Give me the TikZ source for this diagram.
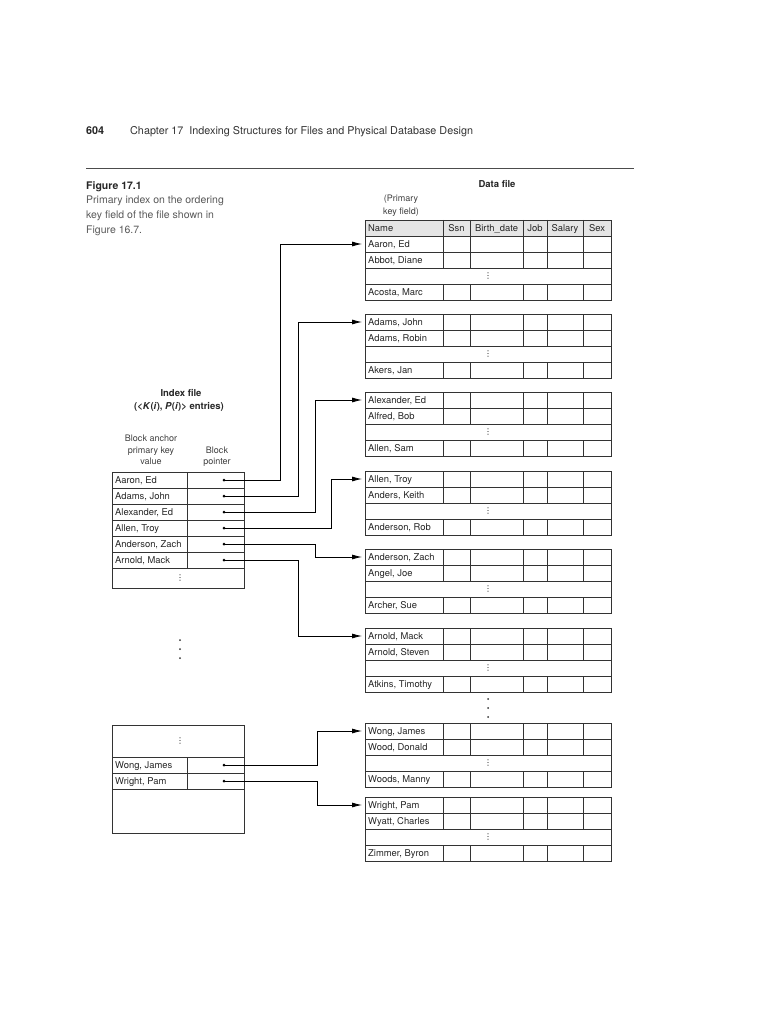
\documentclass[tikz,border=0pt]{standalone}
\usepackage{fontspec}
\setmainfont{TeX Gyre Heros}
\newfontfamily\symfont{DejaVu Sans}
\usetikzlibrary{arrows.meta}

\tikzset{
  grid/.style={draw=black!80, line width=0.7pt},
  cell/.style={anchor=west, inner sep=0pt, text height=6.8pt, text depth=0pt,
    font=\fontsize{9.4}{10}\selectfont, text=black!85},
  head/.style={cell, anchor=center},
  vdot/.style={inner sep=0pt, font=\symfont\fontsize{8}{8}\selectfont, text=black!90},
  bul/.style={circle, fill=black, inner sep=0pt, minimum size=3pt},
  ptr/.style={line width=0.8pt, -{Latex[length=10pt,width=5pt]}, shorten >=3pt},
  small/.style={inner sep=0pt, align=center, text=black!75,
    font=\fontsize{9}{11.5}\selectfont},
}

% one block of the data file: name, top, first, second, last record
\newcommand\datablock[5]{%
  \draw[grid] (365,#2) rectangle (611,#2+64);
  \draw[grid] (365,#2+16) -- (611,#2+16) (365,#2+32) -- (611,#2+32)
              (365,#2+48) -- (611,#2+48);
  \foreach \x in {443,470,523,547,583}
    \draw[grid] (\x,#2) -- (\x,#2+32) (\x,#2+48) -- (\x,#2+64);
  \coordinate (#1in) at (365,#2+8);
  \node[cell] (#1) at (368,#2+8) {#3};
  \node[cell] (#1b) at (368,#2+24) {#4};
  \node[vdot] (#1d) at (488,#2+40) {⋮};
  \node[cell] (#1c) at (368,#2+56) {#5};
}

% one entry of the index file: name, top, key
\newcommand\idxrow[3]{%
  \node[cell] (#1) at (115,#2+8) {#3};
  \node[bul] (#1p) at (224,#2+8) {};
}

\begin{document}
\begin{tikzpicture}[x=1pt, y=-1pt]
  \useasboundingbox (0,0) rectangle (768,1024);

  \node[anchor=base west, inner sep=0pt, text=black!85,
    font=\bfseries\fontsize{10.8}{12}\selectfont] (page) at (86,135) {604};
  \node[anchor=base west, inner sep=0pt, text=black!80,
    font=\fontsize{10.8}{12}\selectfont] (chap) at (130,135)
    {Chapter 17\ \ Indexing Structures for Files and Physical Database Design};
  \draw[black!70, line width=1pt] (86,169) -- (634,169);

  \node[anchor=base west, inner sep=0pt, text=black!85,
    font=\bfseries\fontsize{10.5}{12}\selectfont] (fig) at (86,190) {Figure 17.1};
  \node[anchor=north west, inner sep=0pt, align=left, text=black!65,
    font=\fontsize{10.5}{15}\selectfont] (cap) at (86,195.5)
    {Primary index on the ordering\\key field of the file shown in\\Figure 16.7.};

  % data file
  \node[anchor=base, inner sep=0pt, text=black!85,
    font=\bfseries\fontsize{9.5}{11}\selectfont] (dfile) at (497,188) {Data file};
  \node[small, anchor=north, font=\fontsize{9}{13}\selectfont] (pkey) at (401,194.5)
    {(Primary\\key field)};

  \fill[black!10] (365,220) rectangle (611,236);
  \draw[grid] (365,220) rectangle (611,236);
  \foreach \x in {443,470,523,547,583}
    \draw[grid] (\x,220) -- (\x,236);
  \node[cell] (hname) at (368,228) {Name};
  \node[head] (hssn) at (456.5,228) {Ssn};
  \node[head] (hbirth) at (496.5,228) {Birth\_date};
  \node[head] (hjob) at (535,228) {Job};
  \node[head] (hsal) at (565,228) {Salary};
  \node[head] (hsex) at (597,228) {Sex};

  \datablock{b1}{236}{Aaron, Ed}{Abbot, Diane}{Acosta, Marc}
  \datablock{b2}{314}{Adams, John}{Adams, Robin}{Akers, Jan}
  \datablock{b3}{392}{Alexander, Ed}{Alfred, Bob}{Allen, Sam}
  \datablock{b4}{471}{Allen, Troy}{Anders, Keith}{Anderson, Rob}
  \datablock{b5}{549}{Anderson, Zach}{Angel, Joe}{Archer, Sue}
  \datablock{b6}{628}{Arnold, Mack}{Arnold, Steven}{Atkins, Timothy}
  \datablock{b7}{723}{Wong, James}{Wood, Donald}{Woods, Manny}
  \datablock{b8}{797}{Wright, Pam}{Wyatt, Charles}{Zimmer, Byron}

  \foreach \y in {699,708,717}
    \fill[black!80] (488,\y) circle (1pt);

  % index file
  \node[anchor=base, inner sep=0pt, text=black!85,
    font=\bfseries\fontsize{9.5}{11}\selectfont] (ifile) at (181,396) {Index file};
  \node[anchor=base, inner sep=0pt, text=black!85,
    font=\bfseries\fontsize{9.5}{11}\selectfont] (ient) at (179,409)
    {(<\textit{K}(\textit{i}), \textit{P}(\textit{i})> entries)};
  \node[small, anchor=north] (ianchor) at (151,435) {Block anchor\\primary key\\value};
  \node[small, anchor=north] (iptr) at (217,446.5) {Block\\pointer};

  \draw[grid] (112,472) rectangle (244,588);
  \foreach \y in {488,504,520,536,552,568}
    \draw[grid] (112,\y) -- (244,\y);
  \draw[grid] (187,472) -- (187,568);
  \idxrow{k1}{472}{Aaron, Ed}
  \idxrow{k2}{488}{Adams, John}
  \idxrow{k3}{504}{Alexander, Ed}
  \idxrow{k4}{520}{Allen, Troy}
  \idxrow{k5}{536}{Anderson, Zach}
  \idxrow{k6}{552}{Arnold, Mack}
  \node[vdot] (kd1) at (180,578) {⋮};

  \foreach \y in {640,649,658}
    \fill[black!80] (180,\y) circle (1pt);

  \draw[grid] (112,725) rectangle (244,833);
  \draw[grid] (112,757) -- (244,757) (112,773) -- (244,773) (112,789) -- (244,789);
  \draw[grid] (187,757) -- (187,789);
  \node[vdot] (kd2) at (180,741) {⋮};
  \idxrow{k7}{757}{Wong, James}
  \idxrow{k8}{773}{Wright, Pam}

  % block pointers
  \foreach \p/\b/\s in {k1/b1/85, k2/b2/67, k3/b3/50, k4/b4/34,
                        k5/b5/50, k6/b6/67, k7/b7/48, k8/b8/48}
    \draw[ptr] (\p p.center) -| ([xshift=-\s pt]\b in) -- (\b in);
\end{tikzpicture}
\end{document}
